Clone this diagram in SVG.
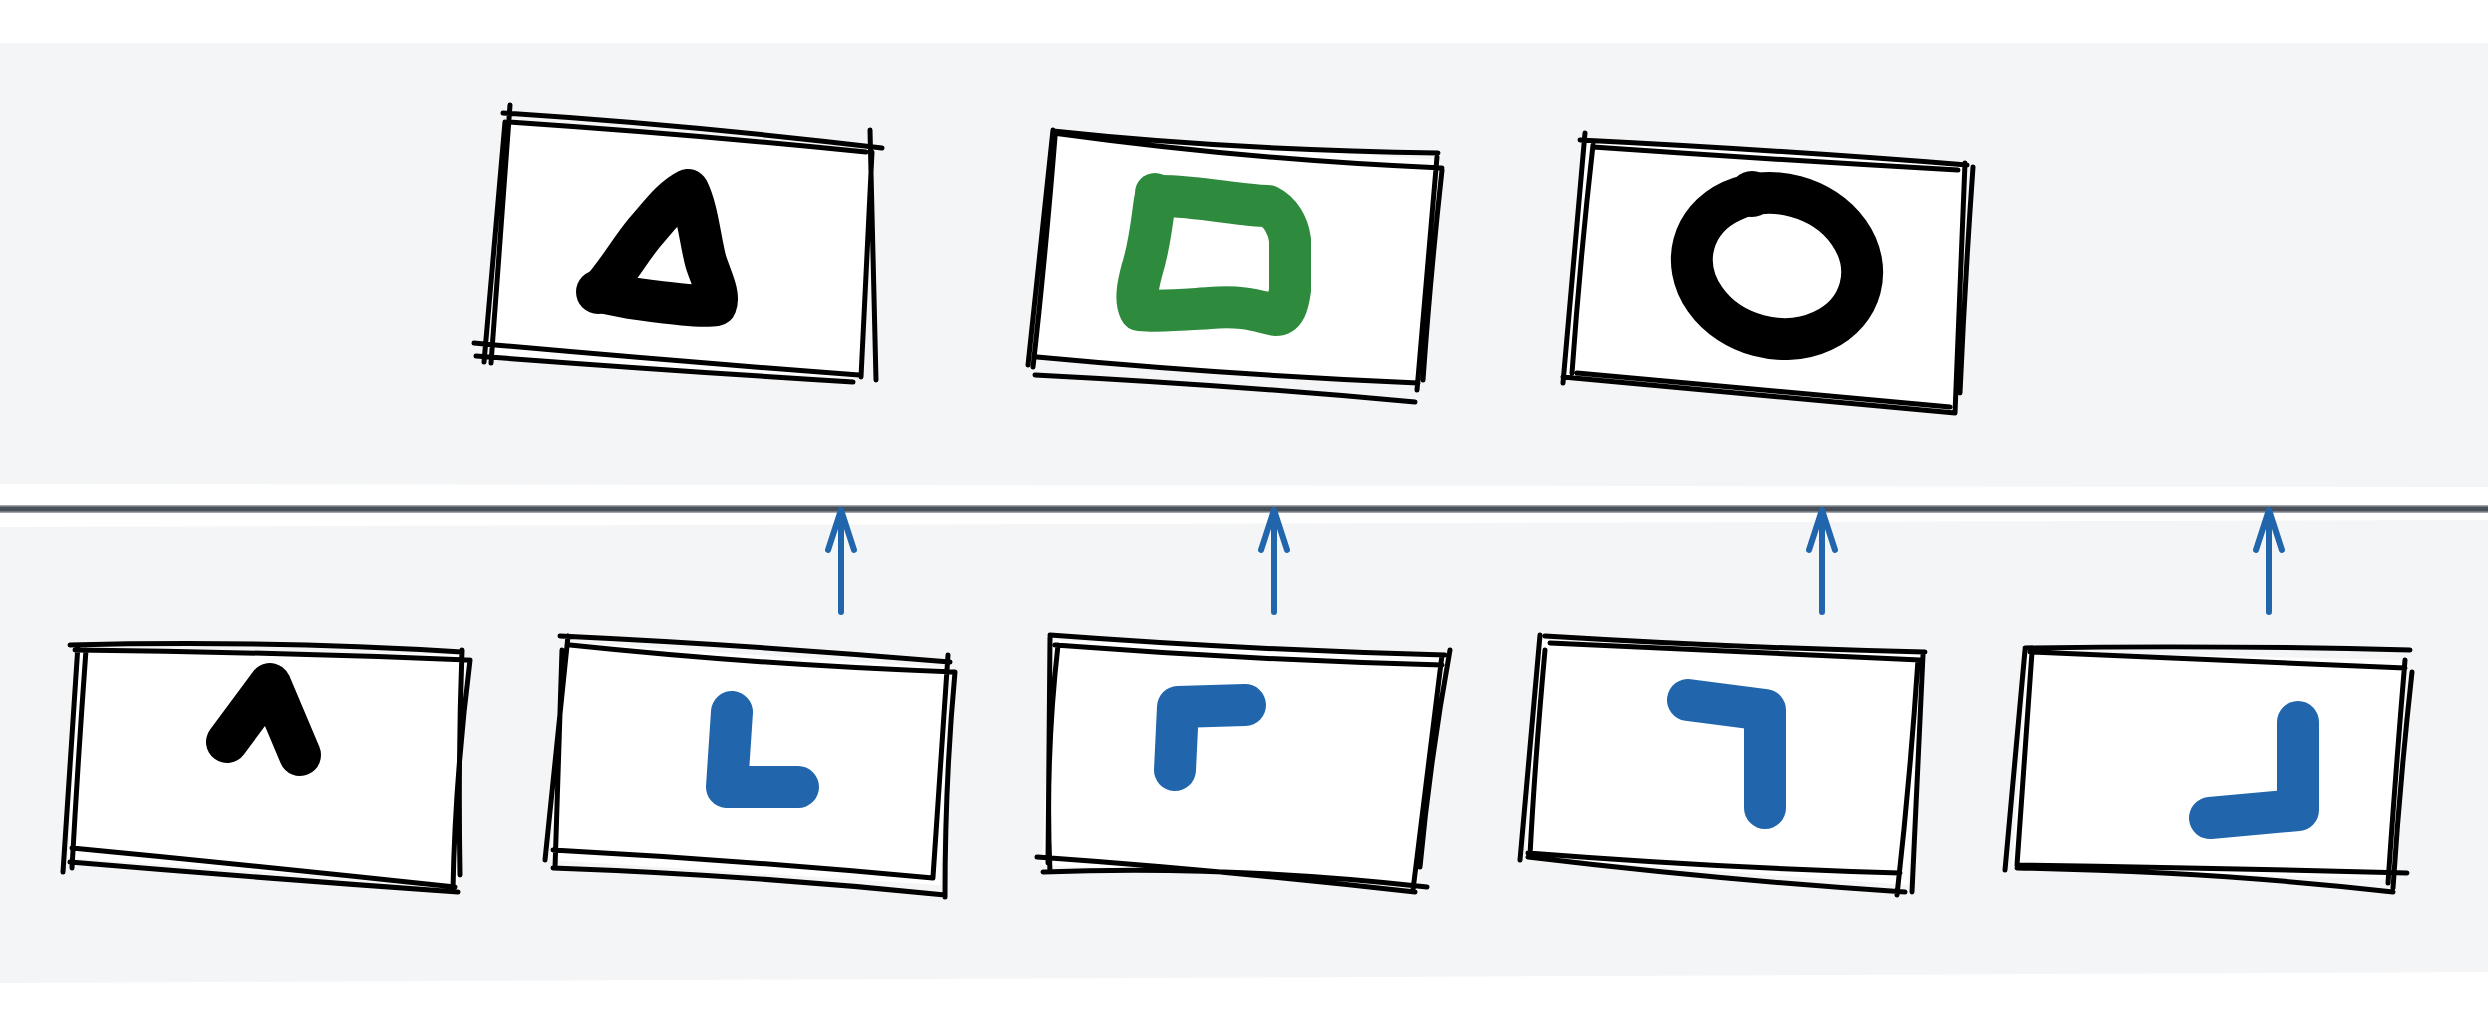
<svg xmlns="http://www.w3.org/2000/svg" width="2488" height="1022" viewBox="0 0 2488 1022">
<style>
.band{fill:#f4f5f7}
.card{fill:#fff;stroke:none}
.edge{fill:none;stroke:#000;stroke-width:5;stroke-linecap:round;stroke-linejoin:round}
.ink{fill:none;stroke-width:42;stroke-linecap:round;stroke-linejoin:round}
.k{stroke:#000}
.g{stroke:#2e8b3d}
.b{stroke:#2166ac}
.arrow{fill:none;stroke:#2166ac;stroke-width:6;stroke-linecap:round;stroke-linejoin:round}
</style>
<rect width="2488" height="1022" fill="#fff"/>
<polygon class="band" points="0,43 2488,43 2488,487 0,484"/>
<polygon class="band" points="0,527 2488,520 2488,972 0,983"/>
<rect x="0" y="505" width="2488" height="8" fill="#a2a6ad"/>
<rect x="0" y="506.5" width="2488" height="5" fill="#4a5059"/>

<g id="top-triangle">
<polygon class="card" points="508,120 872,150 862,378 488,358"/>
<path class="edge" d="M503,113 Q690,125 882,148 M509,122 Q700,135 866,152 M510,105 L491,363 M505,122 Q495,240 484,362 M474,343 Q660,360 859,375 M476,356 Q660,370 853,382 M870,130 L876,380 M872,152 L861,377"/>
<path class="ink k" d="M600,292 C618,272 630,250 645,232 C660,215 672,198 688,190 C698,210 700,240 706,262 C712,280 720,295 716,305 C700,308 660,302 630,298 Z"/>
<circle cx="598" cy="292" r="22" fill="#000"/>
</g>

<g id="top-square">
<polygon class="card" points="1053,133 1440,160 1418,385 1035,358"/>
<path class="edge" d="M1053,131 Q1230,150 1438,153 M1053,133 Q1250,160 1442,168 M1053,130 L1028,365 M1055,137 Q1045,260 1033,367 M1037,357 Q1230,375 1418,383 M1035,375 Q1230,385 1415,402 M1437,157 L1417,390 M1442,170 Q1430,280 1423,380"/>
<path class="ink g" d="M1160,196 C1200,196 1240,206 1268,206 C1280,212 1288,225 1290,240 L1290,290 C1288,305 1285,315 1275,315 C1260,312 1245,305 1210,308 C1180,310 1160,312 1140,310 C1135,300 1138,285 1142,270 C1150,245 1152,220 1155,200"/>
<circle cx="1155" cy="193" r="20" fill="#2e8b3d"/>
</g>

<g id="top-ring">
<polygon class="card" points="1585,140 1965,165 1955,410 1565,378"/>
<path class="edge" d="M1580,140 Q1780,150 1967,165 M1593,147 Q1780,160 1958,170 M1585,133 L1563,383 M1593,145 Q1580,260 1572,373 M1563,377 Q1760,395 1955,413 M1577,373 Q1760,390 1950,407 M1965,163 L1955,413 M1973,167 Q1965,280 1960,393"/>
<ellipse class="ink k" cx="1777" cy="266" rx="86" ry="72" stroke-width="46" transform="rotate(15 1777 266)"/>
<circle cx="1752" cy="194" r="23" fill="#000"/>
</g>

<g id="bottom-caret">
<polygon class="card" points="80,648 465,655 458,885 68,858"/>
<path class="edge" d="M70,645 Q270,640 462,652 M75,650 Q270,652 468,660 M78,645 L63,872 M86,650 Q78,760 72,868 M72,848 Q260,866 455,887 M70,862 Q260,878 458,892 M462,650 Q458,760 460,875 M470,660 Q455,780 453,890"/>
<path class="ink k" d="M227,742 L270,684 L300,755"/>
</g>

<g id="bottom-L">
<polygon class="card" points="565,642 950,668 940,885 550,860"/>
<path class="edge" d="M560,636 Q750,645 950,662 M570,645 Q760,665 955,672 M568,636 L545,860 M562,650 L555,868 M553,850 Q740,860 933,878 M553,868 Q750,875 945,895 M948,655 L933,877 M955,672 Q945,780 945,897"/>
<path class="ink b" d="M732,712 L727,787 L798,787"/>
</g>

<g id="bottom-corner-tl">
<polygon class="card" points="1052,640 1445,656 1418,885 1042,865"/>
<path class="edge" d="M1050,635 Q1250,650 1445,655 M1055,645 Q1250,660 1442,665 M1050,637 L1048,863 M1058,645 Q1045,760 1050,872 M1037,857 Q1220,870 1415,892 M1043,872 Q1230,865 1427,887 M1442,655 L1413,890 M1450,650 Q1430,760 1420,867"/>
<path class="ink b" d="M1175,770 L1178,707 L1245,705"/>
</g>

<g id="bottom-corner-tr">
<polygon class="card" points="1542,640 1922,655 1908,885 1525,857"/>
<path class="edge" d="M1545,636 Q1740,648 1925,652 M1550,643 Q1740,652 1920,660 M1540,635 L1520,860 M1545,650 Q1535,760 1530,855 M1528,853 Q1720,868 1900,873 M1528,857 Q1720,880 1905,892 M1923,655 L1912,892 M1918,660 Q1910,780 1897,895"/>
<path class="ink b" d="M1688,700 L1765,710 L1765,808"/>
</g>

<g id="bottom-corner-br">
<polygon class="card" points="2028,652 2405,660 2392,880 2012,866"/>
<path class="edge" d="M2025,648 Q2220,645 2410,650 M2030,652 Q2220,660 2405,668 M2025,650 Q2015,760 2005,870 M2032,652 L2017,865 M2017,865 Q2220,868 2407,873 M2017,868 Q2220,872 2393,892 M2405,660 Q2395,780 2388,883 M2412,672 Q2400,780 2393,888"/>
<path class="ink b" d="M2298,722 L2298,810 L2210,818"/>
</g>

<g id="connectors">
<path class="arrow" d="M841,612 L841,512 M828,550 L841,510 L854,550"/>
<path class="arrow" d="M1274,612 L1274,512 M1261,550 L1274,510 L1287,550"/>
<path class="arrow" d="M1822,612 L1822,512 M1809,550 L1822,510 L1835,550"/>
<path class="arrow" d="M2269,612 L2269,512 M2256,550 L2269,510 L2282,550"/>
</g>
</svg>
